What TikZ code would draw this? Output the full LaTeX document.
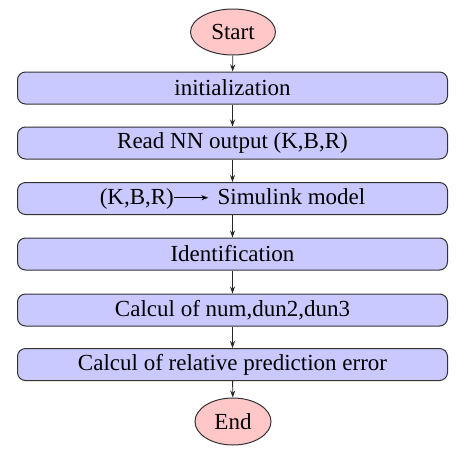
\documentclass[tikz,border=0pt]{standalone}
\usepackage{fontspec}
\setmainfont{Liberation Serif}
\usetikzlibrary{shapes.geometric,arrows.meta}
\tikzset{
  stepbox/.style={draw=black!80, line width=1pt, fill=blue!21, rounded corners=8pt,
    minimum width=430pt, minimum height=32pt, inner sep=0pt,
    font=\fontsize{23}{27}\selectfont},
  terminal/.style={ellipse, draw=black!80, line width=1pt, fill=red!22, inner sep=0pt,
    font=\fontsize{23}{27}\selectfont},
  tip/.style={-{Stealth[length=7pt,width=5pt]}},
  flow/.style={draw=black!85, line width=0.9pt, tip}
}
\begin{document}
\begin{tikzpicture}[x=1pt,y=-1pt]
\useasboundingbox (0,0) rectangle (474,451);
\node[terminal, minimum width=85pt, minimum height=46pt] (start) at (233,32) {Start};
\node[stepbox] (init) at (232.5,88) {initialization};
\node[stepbox] (read) at (232.5,143) {Read NN output (K,B,R)};
\node[stepbox] (sim) at (232.5,198.5) {(K,B,R)\tikz[baseline=-0.6ex]\draw[line width=0.8pt,tip] (0,0) -- (34pt,0);\hspace{9pt}Simulink model};
\node[stepbox] (ident) at (232.5,254) {Identification};
\node[stepbox] (num) at (232.5,310) {Calcul of num,dun2,dun3};
\node[stepbox] (err) at (232.5,364.5) {Calcul of relative prediction error};
\node[terminal, minimum width=76pt, minimum height=47pt] (end) at (233,421.5) {End};
\draw[flow] (start) -- (init);
\draw[flow] (init) -- (read);
\draw[flow] (read) -- (sim);
\draw[flow] (sim) -- (ident);
\draw[flow] (ident) -- (num);
\draw[flow] (num) -- (err);
\draw[flow] (err) -- (end);
\end{tikzpicture}
\end{document}
